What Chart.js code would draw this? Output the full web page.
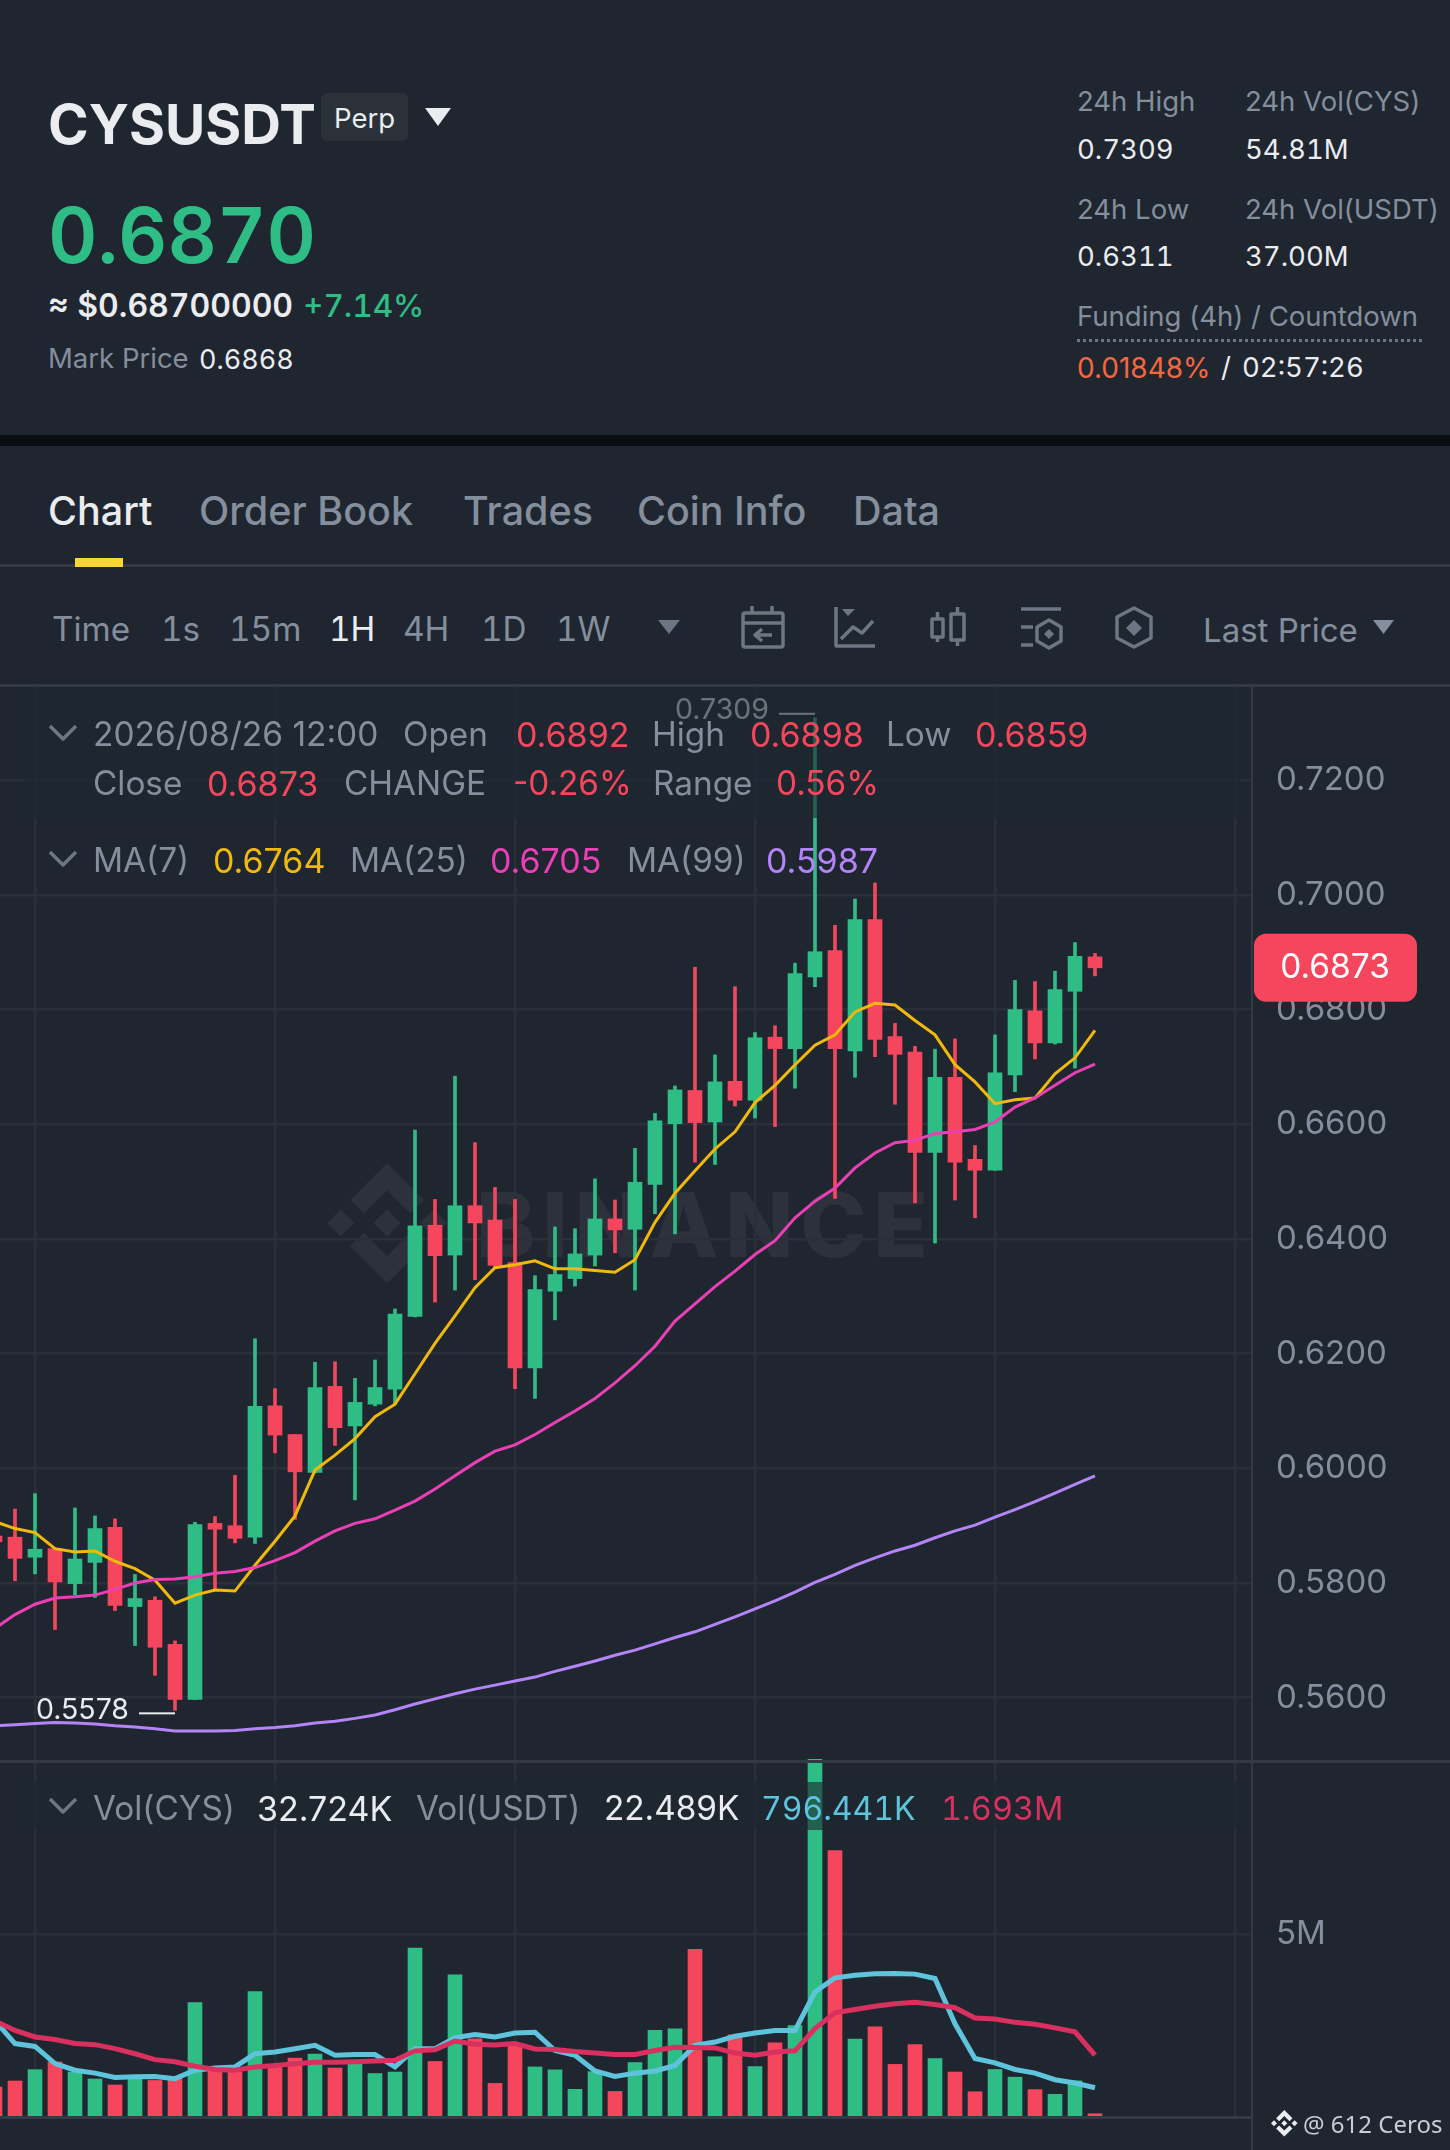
<!DOCTYPE html>
<html>
<head>
<meta charset="utf-8">
<script src="https://cdn.jsdelivr.net/npm/chart.js@4"></script>
<style>
html,body{margin:0;padding:0;background:#1F2630;}
body{position:relative;width:1450px;height:2150px;overflow:hidden;font-family:Inter,sans-serif;}
.t{position:absolute;white-space:nowrap;transform:translateY(-50%);line-height:1;font-size:33.3px;color:#848E9C;}
.n{font-size:34px;}
.num{font-variant-numeric:tabular-nums;}
.w{color:#EAECEF;}
.r{color:#F6465D;}
.g{color:#2EBD85;}
.s{font-size:27.5px;}
.tab{font-size:39.5px;font-weight:500;}
.bar{position:absolute;background:#333A46;}
canvas{position:absolute;left:0;}
svg{position:absolute;left:0;top:0;}
</style>
</head>
<body>

<!-- watermark -->
<svg width="1450" height="2150" style="z-index:0">
  <g transform="translate(327,1163) scale(0.948)" fill="#2D313C">
    <path d="M38.73 53.2l24.59-24.58 24.6 24.6 14.3-14.31L63.32 0 24.42 38.9zM0 63.31l14.3-14.31 14.31 14.31-14.31 14.3zM38.73 73.41l24.59 24.59 24.6-24.6 14.31 14.29-38.9 38.91-38.91-38.88zM98 63.31l14.3-14.31 14.31 14.3-14.31 14.32zM77.83 63.3L63.32 48.78 52.59 59.51l-1.24 1.23-2.54 2.54 14.51 14.5 14.51-14.47z"/>
  </g>
</svg>
<div class="t" style="left:476px;top:1224px;font-size:89px;font-weight:800;color:#2D313C;letter-spacing:7px;z-index:0">BINANCE</div>

<canvas id="priceChart" width="1450" height="1075" style="top:687px;z-index:1"></canvas>
<canvas id="volChart" width="1450" height="391" style="top:1759px;z-index:1"></canvas>

<!-- legend veils -->
<div style="position:absolute;left:24px;top:686px;width:1216px;height:132px;background:rgba(31,38,48,.62);z-index:2"></div>
<div style="position:absolute;left:24px;top:1782px;width:1216px;height:48px;background:rgba(31,38,48,.62);z-index:2"></div>

<!-- separators -->
<div class="bar" style="left:0;top:435px;width:1450px;height:11px;background:#0B0E11"></div>
<div class="bar" style="left:0;top:564px;width:1450px;height:3px"></div>
<div class="bar" style="left:75px;top:558px;width:48px;height:9px;background:#FCD535"></div>
<div class="bar" style="left:0;top:684px;width:1450px;height:3px;z-index:3"></div>
<div class="bar" style="left:0;top:1760px;width:1450px;height:3px;z-index:3"></div>
<div class="bar" style="left:0;top:2116px;width:1252px;height:3px;z-index:3"></div>
<div class="bar" style="left:1251px;top:686px;width:2px;height:1464px;z-index:3"></div>

<!-- header -->
<div class="t w" style="left:48px;top:124px;font-size:55px;font-weight:700">CYSUSDT</div>
<div style="position:absolute;left:321px;top:93px;width:87px;height:48px;background:#2B3139;border-radius:6px"></div>
<div class="t w" style="left:334px;top:119px;font-size:27.5px">Perp</div>
<div class="t g num" style="left:48px;top:235px;font-size:76.5px;font-weight:600">0.6870</div>
<div class="t w num" style="left:48px;top:306px;font-weight:600;font-size:32px">≈ $0.68700000</div>
<div class="t g num" style="left:303px;top:306px;font-size:31.5px;font-weight:500">+7.14%</div>
<div class="t s" style="left:48px;top:359px">Mark Price</div>
<div class="t s w num" style="left:199px;top:359px;font-size:27px">0.6868</div>

<div class="t s" style="left:1077px;top:102px">24h High</div>
<div class="t s" style="left:1245px;top:102px">24h Vol(CYS)</div>
<div class="t s w num" style="left:1077px;top:150px">0.7309</div>
<div class="t s w num" style="left:1245px;top:150px">54.81M</div>
<div class="t s" style="left:1077px;top:210px">24h Low</div>
<div class="t s" style="left:1245px;top:210px">24h Vol(USDT)</div>
<div class="t s w num" style="left:1077px;top:257px">0.6311</div>
<div class="t s w num" style="left:1245px;top:257px">37.00M</div>
<div class="t s" style="left:1077px;top:317px">Funding (4h) / Countdown</div>
<div style="position:absolute;left:1077px;top:339px;width:345px;border-top:3px dotted #6E7683"></div>
<div class="t s" style="left:1077px;top:368px;color:#F6663F;font-size:28px">0.01848%</div>
<div class="t s w" style="left:1221px;top:368px">/</div>
<div class="t s w num" style="left:1242px;top:368px">02:57:26</div>

<!-- tabs -->
<div class="t tab w" style="left:48px;top:512px">Chart</div>
<div class="t tab" style="left:199px;top:512px">Order Book</div>
<div class="t tab" style="left:463px;top:512px">Trades</div>
<div class="t tab" style="left:637px;top:512px">Coin Info</div>
<div class="t tab" style="left:853px;top:512px">Data</div>

<!-- toolbar -->
<div class="t" style="left:52px;top:630px">Time</div>
<div class="t num" style="left:161px;top:630px">1s</div>
<div class="t num" style="left:229px;top:630px">15m</div>
<div class="t w num" style="left:329px;top:630px">1H</div>
<div class="t num" style="left:403px;top:630px">4H</div>
<div class="t num" style="left:481px;top:630px">1D</div>
<div class="t num" style="left:556px;top:630px">1W</div>
<div class="t" style="left:1203px;top:630px;font-size:33px">Last Price</div>

<svg width="1450" height="2150" style="z-index:4;pointer-events:none" fill="none" stroke="#6E7683" stroke-width="3.5" stroke-linejoin="round">
  <polygon points="425,108 451,108 438,126" fill="#EAECEF" stroke="none"/>
  <polygon points="658,620 680,620 669,634" fill="#6E7683" stroke="none"/>
  <polygon points="1373,620 1394,620 1383.5,634" fill="#848E9C" stroke="none"/>
  <!-- calendar -->
  <rect x="743" y="613" width="40" height="34" rx="2"/>
  <path d="M743 623H783M752 606V613M772 606V613M772 635H755M762 629L755 635L762 641"/>
  <!-- indicator -->
  <path d="M836 607V646H875M841 639L853 627L862 633L873 621"/>
  <polygon points="842,609 855,609 848,616" fill="#6E7683" stroke="none"/>
  <!-- candles -->
  <rect x="932" y="619" width="11" height="18"/>
  <path d="M937.5 612V619M937.5 637V642"/>
  <rect x="951" y="614" width="13" height="26"/>
  <path d="M957.5 607V614M957.5 640V646"/>
  <!-- settings -->
  <path d="M1021 609H1061M1021 627H1033M1021 645H1033"/>
  <polygon points="1049,620 1061,627 1061,641 1049,648 1037,641 1037,627"/>
  <polygon points="1049,629 1054,634 1049,639 1044,634" fill="#6E7683" stroke="none"/>
  <!-- hexagon -->
  <polygon points="1134,608 1151,617 1151,638 1134,647 1117,638 1117,617"/>
  <polygon points="1134,620 1142,628 1134,636 1126,628" fill="#6E7683" stroke="none"/>
  <!-- chevrons -->
  <path d="M50 726L63 739L76 726M50 852L63 865L76 852M50 1799L63 1812L76 1799"/>
</svg>

<!-- ohlc legend -->
<div style="position:absolute;left:0;top:0;z-index:4">
<div class="t" style="left:93px;top:735px;font-size:33.5px">2026/08/26 12:00</div>
<div class="t" style="left:403px;top:735px">Open</div>
<div class="t r n" style="left:516px;top:735px">0.6892</div>
<div class="t" style="left:652px;top:735px">High</div>
<div class="t r n" style="left:750px;top:735px">0.6898</div>
<div class="t" style="left:886px;top:735px">Low</div>
<div class="t r n" style="left:975px;top:735px">0.6859</div>
<div class="t" style="left:93px;top:784px">Close</div>
<div class="t r n" style="left:207px;top:784px">0.6873</div>
<div class="t" style="left:344px;top:784px">CHANGE</div>
<div class="t r" style="left:513px;top:784px">-0.26%</div>
<div class="t" style="left:653px;top:784px">Range</div>
<div class="t r" style="left:776px;top:784px">0.56%</div>
<div class="t" style="left:93px;top:861px">MA(7)</div>
<div class="t n" style="left:213px;top:861px;color:#F0B90B">0.6764</div>
<div class="t" style="left:350px;top:861px">MA(25)</div>
<div class="t n" style="left:490px;top:861px;color:#EB40B5">0.6705</div>
<div class="t" style="left:627px;top:861px">MA(99)</div>
<div class="t n" style="left:766px;top:861px;color:#B385F8">0.5987</div>
<div class="t" style="left:93px;top:1809px">Vol(CYS)</div>
<div class="t w n" style="left:257px;top:1809px">32.724K</div>
<div class="t" style="left:416px;top:1809px">Vol(USDT)</div>
<div class="t w" style="left:604px;top:1809px">22.489K</div>
<div class="t num" style="left:761px;top:1809px;color:#5DC4DC;font-size:32px">796.441K</div>
<div class="t num" style="left:941px;top:1809px;color:#D9305F;font-size:32.5px">1.693M</div>
</div>

<!-- credit -->
<svg width="1450" height="2150" style="z-index:4">
  <g transform="translate(1271,2110) scale(0.21)" fill="#EAECEF">
    <path d="M38.73 53.2l24.59-24.58 24.6 24.6 14.3-14.31L63.32 0 24.42 38.9zM0 63.31l14.3-14.31 14.31 14.31-14.31 14.3zM38.73 73.41l24.59 24.59 24.6-24.6 14.31 14.29-38.9 38.91-38.91-38.88zM98 63.31l14.3-14.31 14.31 14.3-14.31 14.32zM77.83 63.3L63.32 48.78 52.59 59.51l-1.24 1.23-2.54 2.54 14.51 14.5 14.51-14.47z"/>
  </g>
</svg>
<div class="t" style="left:1303px;top:2124px;font-size:24px;color:#C9CDD4;z-index:4;font-family:'Noto Sans'">@ 612 Ceros</div>

<script>
// ohlc, one value per hourly candle
var opens = [.5882,.5880,.5845,.5860,.5799,.5836,.5897,.5759,.5770,.5693,.5597,.5904,.5900,.5880,.6109,.6059,.5993,.6143,.6074,.6112,.6138,.6265,.6424,.6372,.6458,.6433,.6359,.6175,.6309,.6331,.6372,.6435,.6417,.6495,.6601,.6659,.6604,.6675,.6642,.6752,.6732,.6857,.6903,.6728,.6957,.6753,.6726,.6551,.6682,.6539,.6520,.6686,.6798,.6742,.6832,.6892];
var closes = [.5872,.5843,.5859,.5802,.5842,.5895,.5761,.5773,.5688,.5597,.5902,.5894,.5878,.6108,.6058,.5994,.6141,.6071,.6115,.6141,.6269,.6423,.6371,.6458,.6428,.6354,.6175,.6312,.6338,.6374,.6435,.6416,.6499,.6606,.6660,.6603,.6674,.6642,.6751,.6732,.6863,.6901,.6732,.6957,.6748,.6722,.6551,.6682,.6534,.6520,.6690,.6800,.6742,.6835,.6893,.6873];
var highs = [.5885,.5929,.5956,.5860,.5931,.5917,.5912,.5815,.5776,.5699,.5906,.5916,.5988,.6226,.6139,.6059,.6185,.6186,.6157,.6189,.6278,.6590,.6469,.6684,.6568,.6490,.6469,.6336,.6421,.6418,.6505,.6468,.6558,.6619,.6667,.6874,.6721,.6840,.6760,.6772,.6881,.7309,.6947,.6993,.7021,.6776,.6736,.6731,.6749,.6563,.6756,.6851,.6849,.6867,.6917,.6898];
var lows = [.5865,.5804,.5816,.5719,.5779,.5775,.5752,.5691,.5639,.5578,.5597,.5787,.5870,.5869,.6027,.5911,.5992,.6040,.5945,.6109,.6112,.6264,.6290,.6311,.6329,.6350,.6139,.6122,.6259,.6318,.6353,.6376,.6311,.6444,.6409,.6534,.6530,.6632,.6611,.6596,.6663,.6840,.6471,.6682,.6718,.6635,.6463,.6393,.6468,.6437,.6520,.6657,.6714,.6740,.6698,.6859];

var ma7 = [.5907,.5895,.5888,.5860,.5854,.5856,.5838,.5825,.5805,.5765,.5779,.5788,.5786,.5831,.5873,.5917,.5997,.6023,.6052,.6090,.6112,.6165,.6218,.6266,.6315,.6350,.6355,.6362,.6348,.6348,.6345,.6342,.6364,.6429,.6480,.6519,.6557,.6587,.6638,.6668,.6704,.6738,.6756,.6796,.6811,.6808,.6781,.6756,.6704,.6674,.6636,.6643,.6646,.6688,.6716,.6764];
var ma25 = [.5721,.5745,.5763,.5774,.5776,.5779,.5789,.5800,.5806,.5807,.5811,.5817,.5820,.5827,.5839,.5853,.5873,.5891,.5904,.5912,.5927,.5943,.5964,.5987,.6010,.6030,.6041,.6059,.6080,.6100,.6122,.6149,.6179,.6213,.6257,.6287,.6317,.6344,.6373,.6397,.6437,.6466,.6489,.6524,.6550,.6568,.6572,.6584,.6587,.6591,.6604,.6630,.6646,.6668,.6690,.6705];
var ma99 = [.5551,.5553,.5555,.5557,.5556,.5554,.5551,.5549,.5546,.5542,.5542,.5542,.5543,.5546,.5548,.5551,.5556,.5559,.5564,.5570,.5579,.5589,.5598,.5607,.5615,.5622,.5629,.5636,.5646,.5655,.5664,.5674,.5683,.5694,.5705,.5715,.5728,.5741,.5755,.5769,.5784,.5801,.5815,.5831,.5844,.5856,.5866,.5879,.5891,.5901,.5915,.5928,.5942,.5957,.5972,.5987];

// volume in millions
var volumes = [.82,.985,1.295,1.505,1.23,1.04,.876,1.05,1.00,1.05,3.13,1.28,1.23,3.43,1.41,1.61,1.72,1.34,1.50,1.19,1.23,4.62,1.52,3.89,2.14,.92,2.00,1.37,1.29,.757,1.24,.70,1.49,2.37,2.41,4.59,1.65,2.25,1.38,2.03,2.50,9.8,7.29,2.13,2.47,1.44,1.98,1.60,1.23,.69,1.30,1.09,.75,.62,.99,.09];
var volMaFast = [2.63,2.01,1.93,1.46,1.28,1.20,1.08,1.10,1.11,1.05,1.28,1.34,1.37,1.73,1.78,1.87,1.96,1.69,1.71,1.71,1.37,1.87,1.87,2.17,2.26,2.19,2.30,2.32,1.82,1.69,1.26,1.11,1.20,1.26,1.41,1.96,2.05,2.21,2.30,2.37,2.37,3.42,3.81,3.88,3.92,3.93,3.91,3.79,2.55,1.60,1.48,1.30,1.20,1.02,.93,.80];
var volMaSlow = [2.63,2.37,2.19,2.12,2.01,1.98,1.87,1.73,1.57,1.51,1.39,1.30,1.28,1.37,1.41,1.46,1.50,1.50,1.51,1.53,1.55,1.81,1.84,2.08,1.99,1.97,2.01,1.86,1.85,1.79,1.75,1.71,1.71,1.82,1.91,1.90,1.89,1.75,1.69,1.78,1.81,2.42,2.85,2.94,3.03,3.10,3.14,3.08,2.99,2.71,2.68,2.59,2.54,2.44,2.33,1.69];

var priceTicks = [.56,.58,.60,.62,.64,.66,.68,.70,.72];
var volTicks = [5];
var gridCandles = [2,14,26,38,50,62];

var UP = '#2EBD85', DOWN = '#F6465D', GRID = '#2A2F3A';

function colorOf(i) { return closes[i] >= opens[i] ? UP : DOWN; }
function barColors() { return opens.map(function(_, i) { return colorOf(i); }); }
function pts(arr) { return arr.map(function(v, i) { return { x: i, y: v }; }); }
function lineSet(arr, color, width) {
    return { type: 'line', data: pts(arr), borderColor: color, borderWidth: width, pointRadius: 0, tension: 0, order: 0 };
}
function setTicks(list) {
    return function(scale) { scale.ticks = list.map(function(v) { return { value: v }; }); };
}
// fixed axis box, and no room kept for the tick labels above and below the plot
function fitAxis(s) {
    s.width = 198;
    s.paddingTop = 0;
    s.paddingBottom = 0;
}

var xScale = {
    type: 'linear', min: 0.25, max: 62.85, offset: false,
    border: { display: false },
    ticks: { display: false },
    grid: { color: GRID, lineWidth: 2.5, drawTicks: false, offset: false },
    afterBuildTicks: setTicks(gridCandles)
};

// high, low and last price markers
var markers = {
    id: 'markers',
    afterDraw: function(chart) {
        var c = chart.ctx, x = chart.scales.x, y = chart.scales.y;
        var hi = highs.indexOf(Math.max.apply(null, highs));
        var lo = lows.indexOf(Math.min.apply(null, lows));
        c.save();
        c.font = '28.5px Inter';
        c.textAlign = 'right';
        c.textBaseline = 'middle';
        c.fillStyle = '#EAECEF';
        [[hi, highs[hi], -4], [lo, lows[lo], 3]].forEach(function(m) {
            var px = x.getPixelForValue(m[0]), py = y.getPixelForValue(m[1]) + m[2];
            c.fillText(m[1].toFixed(4), px - 46, py - 3);
            c.fillRect(px - 36, py - 1, 36, 2);
        });
        var last = closes[closes.length - 1], ly = y.getPixelForValue(last);
        c.fillStyle = DOWN;
        c.beginPath();
        c.roundRect(1254, ly - 34, 163, 68, 12);
        c.fill();
        c.fillStyle = '#FFFFFF';
        c.font = '33.5px Inter';
        c.textAlign = 'center';
        c.fillText(last.toFixed(4), 1335, ly);
        c.restore();
    }
};

new Chart(document.getElementById('priceChart'), {
    data: {
        datasets: [
            { type: 'bar', data: lows.map(function(v, i) { return { x: i, y: [v, highs[i]] }; }), backgroundColor: barColors(), barThickness: 3, grouped: false, borderSkipped: false, order: 2 },
            { type: 'bar', data: opens.map(function(v, i) { return { x: i, y: [v, closes[i]] }; }), backgroundColor: barColors(), barThickness: 14, grouped: false, borderSkipped: false, order: 1 },
            lineSet(ma99, '#B385F8', 3),
            lineSet(ma25, '#EB40B5', 3),
            lineSet(ma7, '#F0B90B', 3)
        ]
    },
    options: {
        responsive: false, animation: false, devicePixelRatio: 1,
        layout: { padding: 0, autoPadding: false },
        plugins: { legend: { display: false }, tooltip: { enabled: false } },
        scales: {
            x: xScale,
            y: {
                position: 'right', min: 0.54879, max: 0.73627,
                border: { display: false },
                grid: { color: GRID, lineWidth: 2.5, drawTicks: false },
                ticks: { color: '#848E9C', font: { family: 'Inter', size: 33 }, padding: 24, autoSkip: false,
                    callback: function(v) { return v.toFixed(4); } },
                afterBuildTicks: setTicks(priceTicks),
                afterFit: fitAxis
            }
        }
    },
    plugins: [markers]
});

new Chart(document.getElementById('volChart'), {
    data: {
        datasets: [
            { type: 'bar', data: pts(volumes), backgroundColor: barColors(), barThickness: 14, grouped: false, order: 1 },
            lineSet(volMaSlow, '#D9305F', 5),
            lineSet(volMaFast, '#5DC4DC', 5)
        ]
    },
    options: {
        responsive: false, animation: false, devicePixelRatio: 1,
        layout: { padding: { bottom: 33 }, autoPadding: false },
        plugins: { legend: { display: false }, tooltip: { enabled: false } },
        scales: {
            x: xScale,
            y: {
                position: 'right', min: 0, max: 9.797,
                border: { display: false },
                grid: { color: GRID, lineWidth: 2.5, drawTicks: false },
                ticks: { color: '#848E9C', font: { family: 'Inter', size: 33 }, padding: 24, autoSkip: false,
                    callback: function(v) { return v + 'M'; } },
                afterBuildTicks: setTicks(volTicks),
                afterFit: fitAxis
            }
        }
    }
});
</script>
</body>
</html>
